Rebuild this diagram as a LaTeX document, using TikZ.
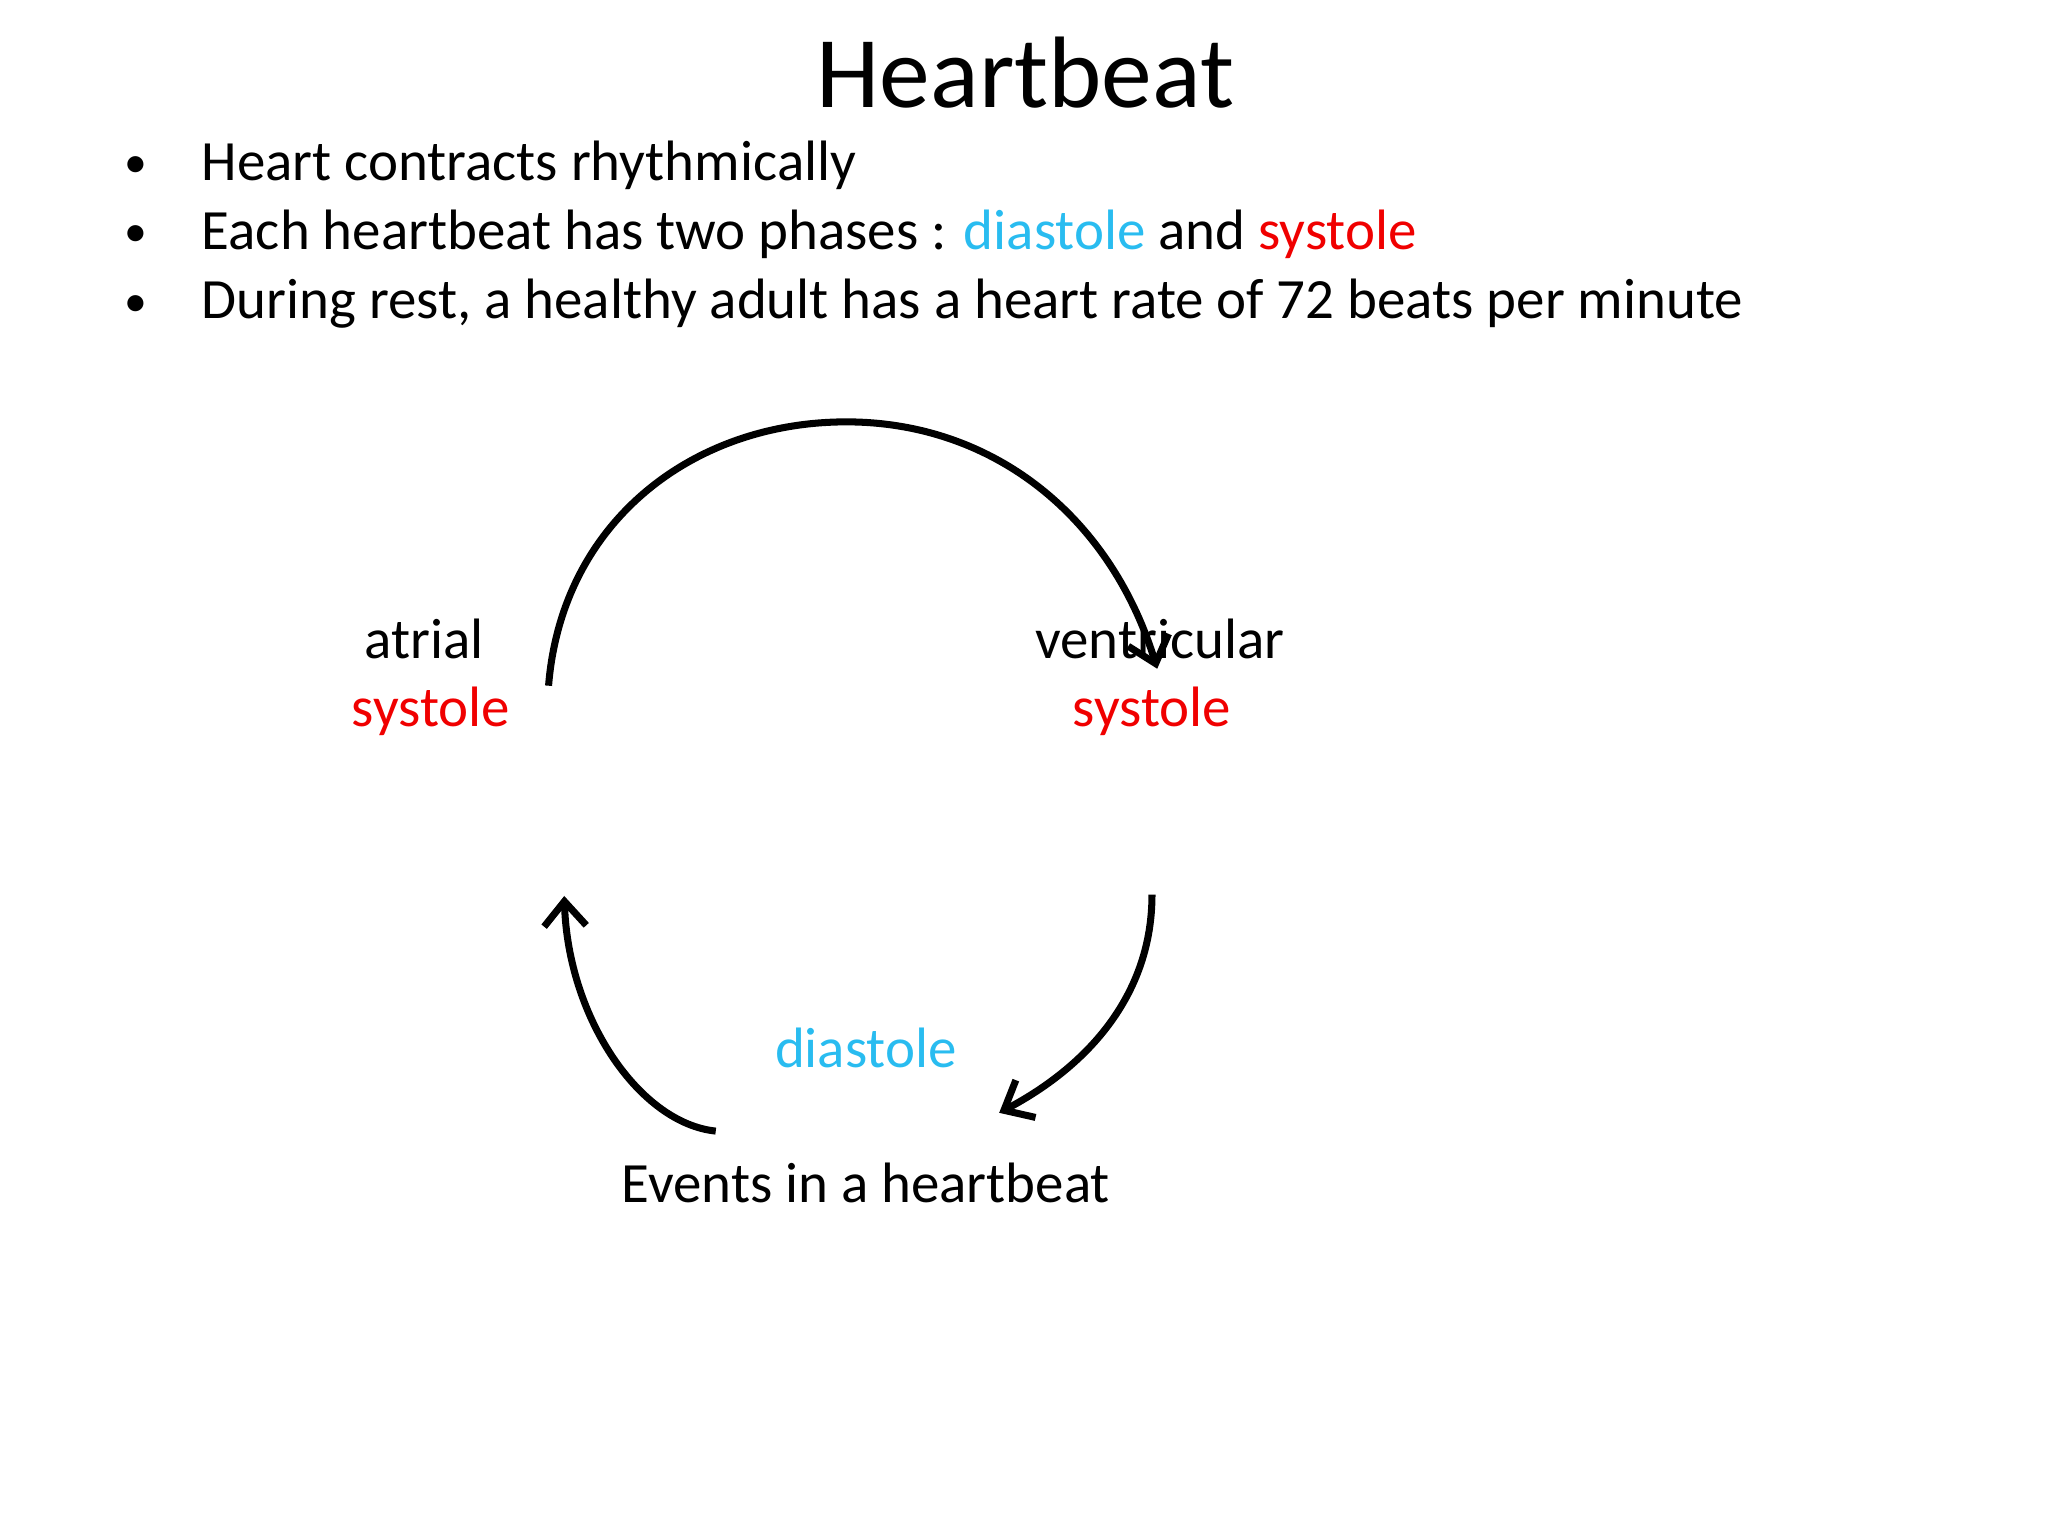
\documentclass[tikz,border=0pt]{standalone}
\usepackage{fontspec}
\setmainfont{Carlito}
\usetikzlibrary{arrows.meta}
\definecolor{dia}{RGB}{41,188,240}
\definecolor{sys}{RGB}{240,0,0}
\tikzset{
  body/.style={font=\fontsize{16.2}{19}\selectfont, inner sep=0pt},
  bul/.style={body, anchor=base west},
  bulm/.style={font=\fontsize{13}{15}\selectfont, inner sep=0pt, anchor=base west},
  lab/.style={body, anchor=base},
  cyc/.style={line width=2pt, -{Straight Barb[length=7pt,width=12pt,line width=2pt]}}
}
\begin{document}
\begin{tikzpicture}[x=0.01306cm,y=-0.01306cm]
\useasboundingbox (0,0) rectangle (1568,1176);
\node[font=\fontsize{28.9}{33}\selectfont, inner sep=0pt, anchor=base] (title) at (785,82) {Heartbeat};
\node[bulm] (b1m) at (95,136) {\textbullet};
\node[bulm] (b2m) at (95,189) {\textbullet};
\node[bulm] (b3m) at (95,242) {\textbullet};
\node[bul] (b1) at (154,138) {Heart contracts rhythmically};
\node[bul] (b2) at (154,191) {Each heartbeat has two phases : \textcolor{dia}{diastole} and \textcolor{sys}{systole}};
\node[bul] (b3) at (154,244) {During rest, a healthy adult has a heart rate of 72 beats per minute};
\node[lab] (atr) at (325,504) {atrial};
\node[lab, text=sys] (asys) at (330,556) {systole};
\node[lab] (ven) at (888,504) {ventricular};
\node[lab, text=sys] (vsys) at (882,556) {systole};
\node[lab, text=dia] (dias) at (663,817) {diastole};
\node[lab] (ev) at (663,921) {Events in a heartbeat};
\coordinate (a1) at (420,525);
\coordinate (a2) at (648,323);
\coordinate (a3) at (886,512);
\coordinate (c1) at (882,685);
\coordinate (c2) at (765,852);
\coordinate (d1) at (548,866);
\coordinate (d2) at (432,686);
\draw[cyc] (a1) .. controls (430,400) and (530,323) .. (a2) .. controls (760,323) and (850,395) .. (a3);
\draw[cyc] (c1) .. controls (882,760) and (835,815) .. (c2);
\draw[cyc] (d1) .. controls (490,860) and (435,780) .. (d2);
\end{tikzpicture}
\end{document}
